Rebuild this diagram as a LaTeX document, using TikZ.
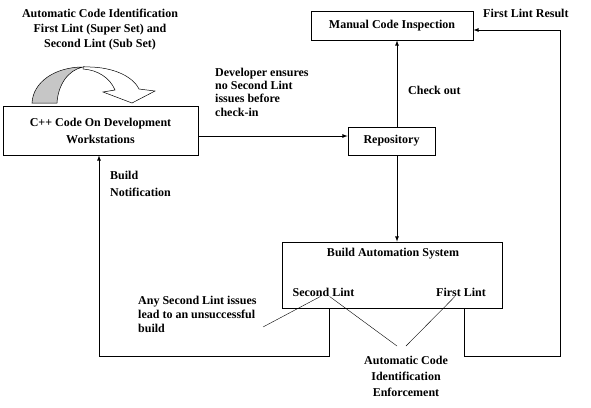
\documentclass[tikz,border=0pt]{standalone}
\usepackage{fontspec}
\setmainfont{Liberation Serif}
\usetikzlibrary{arrows, positioning}

\begin{document}
\begin{tikzpicture}[x=1pt, y=-1pt, >=latex, font=\bfseries\fontsize{12}{15}\selectfont,
        box/.style={draw, line width=0.8pt, inner sep=0pt},
        lbl/.style={inner sep=0pt},
        conn/.style={line width=0.8pt},
        pointer/.style={line width=0.4pt}]
        \useasboundingbox (0,0) rectangle (591,407);

        % boxes
        \node[box, minimum width=162pt, minimum height=29pt] (man) at (392,25.5) {Manual Code Inspection};
        \node[box, minimum width=195pt, minimum height=49pt, align=center, font=\bfseries\fontsize{12}{17}\selectfont] (dev) at (100.5,130.5) {C++ Code On Development\\Workstations};
        \node[box, minimum width=87pt, minimum height=28pt] (repo) at (391.5,141) {Repository};
        \node[box, minimum width=220pt, minimum height=66pt] (bas) at (392,275) {};
        \node[lbl] (bastitle) at (393,254) {Build Automation System};
        \node[lbl] (slint) at (323.5,292) {Second Lint};
        \node[lbl] (flint) at (461,292) {First Lint};

        % labels
        \node[lbl, align=center] (acid) at (100,30) {Automatic Code Identification\\First Lint (Super Set) and\\Second Lint (Sub Set)};
        \node[lbl, align=left, anchor=west, font=\bfseries\fontsize{12}{13.3}\selectfont] (devnote) at (215,92) {Developer ensures\\no Second Lint\\issues before\\check-in};
        \node[lbl, anchor=west] (chk) at (408,90) {Check out};
        \node[lbl, anchor=west] (flres) at (483,13) {First Lint Result};
        \node[lbl, align=left, anchor=west, font=\bfseries\fontsize{12}{17}\selectfont] (bnote) at (110,183.5) {Build\\Notification};
        \node[lbl, align=left, anchor=west, font=\bfseries\fontsize{12}{14}\selectfont] (anyiss) at (138,314) {Any Second Lint issues\\lead to an unsuccessful\\build};
        \node[lbl, align=center, font=\bfseries\fontsize{12}{16}\selectfont] (enf) at (406,376) {Automatic Code\\Identification\\Enforcement};

        % corners
        \coordinate (vx) at (397,0);
        \coordinate (rb) at (464,356);
        \coordinate (rt) at (560,30);
        \coordinate (lb) at (329,356);
        \coordinate (lt) at (99,356);
        \coordinate (anyend) at (263,327);
        \coordinate (enfl) at (397,346);
        \coordinate (enfr) at (406,346);

        % connectors
        \draw[conn, ->] ([yshift=-5.5pt]dev.east) -- ([yshift=5pt]repo.west);
        \draw[conn, ->] (repo.north -| vx) -- (man.south -| vx);
        \draw[conn, ->] (repo.south -| vx) -- (bas.north -| vx);
        \draw[conn, ->] (bas.south -| rb) -- (rb) -| (rt) -- (man.east |- rt);
        \draw[conn, ->] (bas.south -| lb) -- (lb) -- (lt) -- (dev.south -| lt);

        % pointers
        \draw[pointer] ([xshift=-3pt]slint.south) -- (anyend);
        \draw[pointer] ([xshift=6pt]slint.south) -- (enfl);
        \draw[pointer] ([xshift=-6pt]flint.south) -- (enfr);

        % curved arrow
        \draw[fill=white, line width=0.5pt] (83,67) .. controls (110,66) and (132,75) .. (139,89)
            -- (155,91) -- (132,103) -- (103,92) -- (115,90)
            .. controls (110,78) and (98,70) .. (83,69) -- cycle;
        \draw[fill=gray!45, line width=0.5pt] (32,103) .. controls (33,82) and (55,67) .. (83,67)
            .. controls (68,70) and (58,85) .. (57,103) -- cycle;
    \end{tikzpicture}
\end{document}
